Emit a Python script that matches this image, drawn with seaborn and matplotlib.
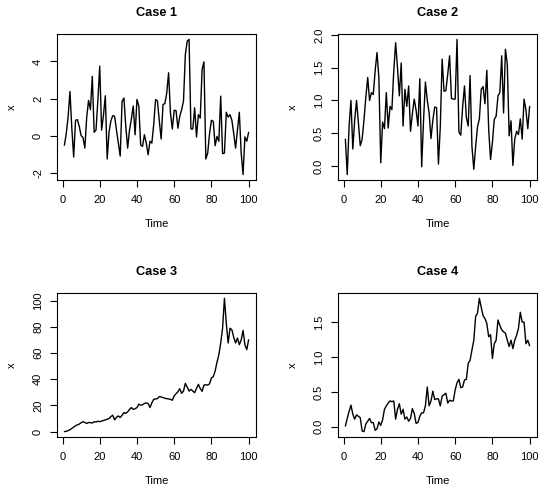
import numpy as np
import pandas as pd
import seaborn as sns
import matplotlib
matplotlib.use("Agg")
import matplotlib.pyplot as plt

time = list(range(1, 101))

case1 = [-0.52, 0.1, 1.0, 2.38, 0.4, -1.15, 0.83, 0.86, 0.5, 0.0,
         -0.1, -0.67, 1.0, 1.9, 1.4, 3.2, 0.18, 0.3, 1.9, 3.75,
         0.3, 1.1, 2.15, -1.26, 0.2, 0.8, 1.08, 1.04, 0.3, -0.4,
         -1.1, 1.85, 2.03, 0.5, -0.67, 0.3, 0.9, 1.6, 0.05, 1.95,
         1.6, -0.5, -0.58, 0.05, -0.4, -1.03, -0.3, -0.4, 0.6, 1.95,
         1.87, 0.8, -0.18, 1.68, 1.73, 2.3, 3.39, 1.22, 0.36, 1.37,
         1.35, 0.4, 1.04, 1.4, 1.86, 4.38, 5.1, 5.19, 0.36, 0.36,
         1.5, -0.07, 1.13, 0.95, 3.57, 3.98, -1.26, -0.94, 0.1, 0.83,
         0.77, -0.54, -0.04, -0.3, 2.13, -0.97, -0.94, 1.26, 1.0, 1.13,
         0.83, 0.1, -0.67, 0.32, 1.26, -0.94, -2.1, -0.07, -0.3, 0.18]

case2 = [0.41, -0.13, 0.61, 1.0, 0.26, 0.7, 1.0, 0.66, 0.31, 0.41,
         0.7, 1.05, 1.35, 1.0, 1.12, 1.09, 1.45, 1.73, 1.35, 0.05,
         0.67, 0.57, 1.12, 0.58, 0.91, 0.86, 1.45, 1.88, 1.5, 1.07,
         1.57, 0.61, 1.17, 0.91, 1.22, 0.53, 0.8, 1.02, 0.85, 0.61,
         1.33, -0.01, 0.7, 1.28, 1.0, 0.81, 0.42, 0.7, 0.9, 0.89,
         0.03, 0.6, 1.63, 1.14, 1.15, 1.4, 1.68, 1.03, 1.02, 1.02,
         1.93, 0.52, 0.47, 0.9, 1.22, 0.74, 0.61, 1.38, 0.30, -0.05,
         0.3, 0.6, 0.72, 1.17, 1.21, 0.95, 1.46, 0.56, 0.10, 0.36,
         0.71, 0.76, 1.07, 1.12, 1.68, 0.81, 1.78, 1.55, 0.46, 0.69,
         0.01, 0.41, 0.53, 0.48, 0.72, 0.41, 1.02, 0.86, 0.57, 0.91]

case3 = [0, 0.3, 0.8, 1.5, 2.5, 3.5, 4.5, 5.2, 5.8, 6.8,
         7.6, 7.0, 6.3, 7.0, 6.9, 6.6, 7.6, 7.4, 8.0, 7.6,
         8.1, 8.5, 9.0, 9.5, 10.0, 11.5, 12.6, 9.0, 11.0, 12.0,
         10.8, 12.5, 14.6, 14.0, 15.1, 17.0, 18.4, 17.0, 17.5, 18.4,
         21.0, 20.2, 20.5, 21.5, 22.0, 21.5, 18.4, 22.0, 24.7, 25.0,
         25.2, 26.8, 26.5, 26.0, 25.5, 25.2, 25.0, 24.7, 24.0, 27.3,
         29.0, 30.5, 32.8, 29.3, 31.0, 36.9, 34.0, 31.0, 32.3, 31.0,
         29.8, 33.0, 36.1, 33.0, 30.8, 35.6, 35.8, 35.6, 36.5, 41.0,
         42.0, 46.2, 53.0, 58.8, 67.7, 79.0, 101.8, 82.8, 67.7, 79.0,
         77.8, 72.0, 67.7, 71.5, 66.4, 70.0, 77.3, 66.4, 62.6, 70.2]

case4 = [0.01, 0.12, 0.22, 0.31, 0.18, 0.11, 0.17, 0.15, 0.13, -0.06,
         -0.07, 0.04, 0.08, 0.12, 0.06, 0.06, -0.05, -0.03, 0.07, 0.02,
         0.10, 0.25, 0.30, 0.34, 0.37, 0.36, 0.37, 0.11, 0.25, 0.33,
         0.18, 0.25, 0.11, 0.14, 0.08, 0.12, 0.26, 0.19, 0.05, 0.06,
         0.15, 0.20, 0.20, 0.30, 0.57, 0.30, 0.37, 0.51, 0.39, 0.40,
         0.40, 0.30, 0.44, 0.46, 0.48, 0.34, 0.38, 0.37, 0.37, 0.53,
         0.63, 0.68, 0.56, 0.57, 0.67, 0.68, 0.91, 0.95, 1.10, 1.24,
         1.58, 1.63, 1.84, 1.71, 1.59, 1.55, 1.48, 1.29, 1.32, 0.98,
         1.19, 1.24, 1.53, 1.45, 1.39, 1.36, 1.34, 1.24, 1.15, 1.24,
         1.12, 1.24, 1.31, 1.41, 1.64, 1.50, 1.50, 1.19, 1.24, 1.16]

titles = ["Case 1", "Case 2", "Case 3", "Case 4"]
series = [case1, case2, case3, case4]
yticks = [[-2, 0, 2, 4],
          [0.0, 0.5, 1.0, 1.5, 2.0],
          [0, 20, 40, 60, 80, 100],
          [0.0, 0.5, 1.0, 1.5]]
ylabels = [["-2", "0", "2", "4"],
           ["0.0", "0.5", "1.0", "1.5", "2.0"],
           ["0", "20", "40", "60", "80", "100"],
           ["0.0", "0.5", "1.0", "1.5"]]
xticks = [0, 20, 40, 60, 80, 100]

sns.set_style("ticks")
plt.rcParams["font.family"] = ["Liberation Sans", "DejaVu Sans"]
plt.rcParams["text.color"] = "black"
plt.rcParams["axes.labelcolor"] = "black"

fig = plt.figure(figsize=(5.5, 4.96), dpi=100)
W, H = 550, 496
# panel boxes in pixels: left, top, right, bottom
boxes = [(57, 34, 256, 180), (338, 34, 537, 180),
         (57, 293, 256, 437), (338, 293, 537, 437)]

for i in range(4):
    l, t, r, b = boxes[i]
    ax = fig.add_axes([l / W, (H - b) / H, (r - l) / W, (b - t) / H])
    df = pd.DataFrame({"Time": time, "x": series[i]})
    sns.lineplot(data=df, x="Time", y="x", ax=ax, color="black", linewidth=1.0)
    ax.margins(x=0.04, y=0.04)
    ax.set_xticks(xticks)
    ax.set_xticklabels([str(v) for v in xticks])
    ax.set_yticks(yticks[i])
    ax.set_yticklabels(ylabels[i], rotation=90, va="center")
    ax.tick_params(direction="out", length=5, width=0.8, labelsize=8, colors="black")
    ax.tick_params(axis="x", pad=6)
    ax.tick_params(axis="y", pad=5)
    for s in ax.spines.values():
        s.set_visible(True)
        s.set_linewidth(0.8)
        s.set_color("black")
    ax.set_title(titles[i], fontsize=9.2, fontweight="bold", pad=13, color="black")
    ax.set_xlabel("Time", fontsize=8, labelpad=10)
    ax.set_ylabel("x", fontsize=8, labelpad=12)

fig.savefig("out.png", dpi=100)
